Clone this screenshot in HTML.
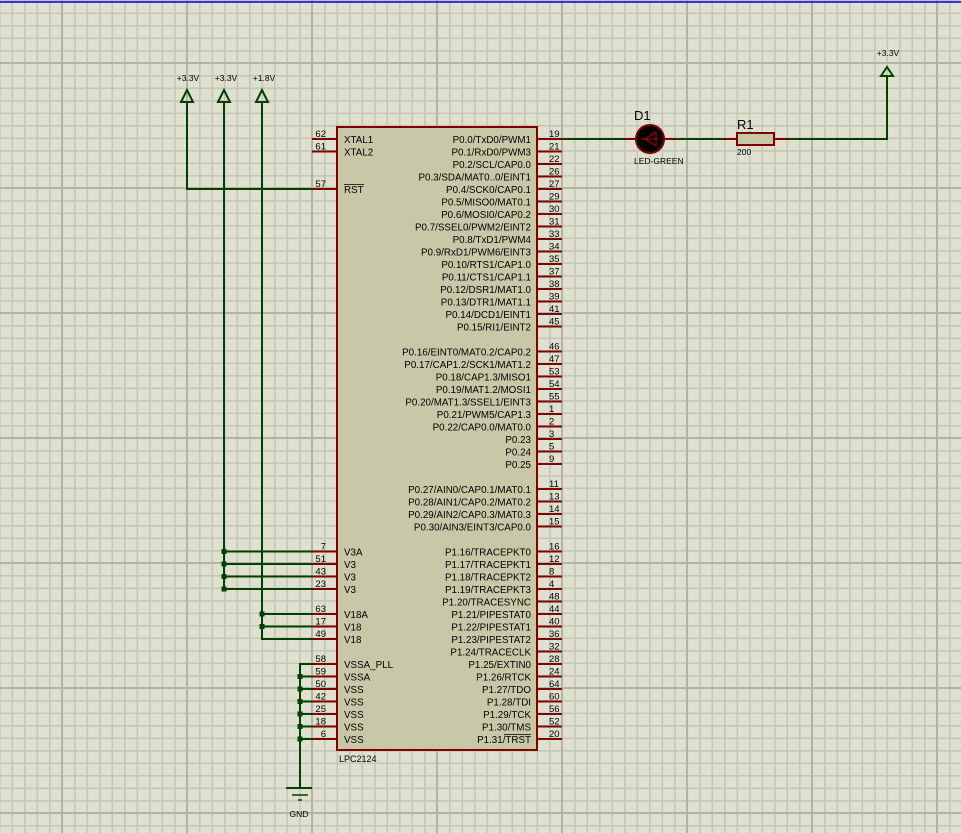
<!DOCTYPE html>
<html><head><meta charset="utf-8"><style>
html,body{margin:0;padding:0;background:#e0e0d0;}
svg{display:block;}
text{font-family:"Liberation Sans",Arial,sans-serif;fill:#000;}
.pl{font-size:9.8px;}
.pn{font-size:9.5px;}
.w{stroke:#004000;stroke-width:2;fill:none;}
.p{stroke:#800000;stroke-width:2;fill:none;}
.j{fill:#004000;}
</style></head><body>
<svg width="961" height="833" viewBox="0 0 961 833" xmlns="http://www.w3.org/2000/svg">
<defs>
<pattern id="g" x="-1" y="0" width="12.5" height="12.5" patternUnits="userSpaceOnUse">
<rect x="0" y="0" width="1.6" height="12.5" fill="#c6c6b6"/>
<rect x="0" y="0" width="12.5" height="1.6" fill="#c6c6b6"/>
</pattern>
<pattern id="G" x="-64" y="-63" width="125" height="125" patternUnits="userSpaceOnUse">
<rect x="0" y="0" width="2" height="125" fill="#b4b4a4"/>
<rect x="0" y="0" width="125" height="2" fill="#b4b4a4"/>
</pattern>
</defs>
<rect width="961" height="833" fill="#e0e0d0"/>
<rect width="961" height="833" fill="url(#g)"/>
<rect width="961" height="833" fill="url(#G)"/>
<line x1="0" y1="2" x2="961" y2="2" stroke="#0000ee" stroke-width="1.5"/>

<!-- chip -->
<rect x="337" y="127" width="200" height="623" fill="#c8c8a8" stroke="#800000" stroke-width="2"/>
<text x="339" y="762" style="font-size:9px">LPC2124</text>

<!-- right pins -->
<g class="p">
<path d="M537 139H562M537 151.5H562M537 164H562M537 176.5H562M537 189H562M537 201.5H562M537 214H562M537 226.5H562M537 239H562M537 251.5H562M537 264H562M537 276.5H562M537 289H562M537 301.5H562M537 314H562M537 326.5H562"/>
<path d="M537 351.5H562M537 364H562M537 376.5H562M537 389H562M537 401.5H562M537 414H562M537 426.5H562M537 439H562M537 451.5H562M537 464H562"/>
<path d="M537 489H562M537 501.5H562M537 514H562M537 526.5H562"/>
<path d="M537 551.5H562M537 564H562M537 576.5H562M537 589H562M537 601.5H562M537 614H562M537 626.5H562M537 639H562M537 651.5H562M537 664H562M537 676.5H562M537 689H562M537 701.5H562M537 714H562M537 726.5H562M537 739H562"/>
</g>
<g class="pl" text-anchor="end">
<text x="531" y="143">P0.0/TxD0/PWM1</text>
<text x="531" y="155.5">P0.1/RxD0/PWM3</text>
<text x="531" y="168">P0.2/SCL/CAP0.0</text>
<text x="531" y="180.5">P0.3/SDA/MAT0..0/EINT1</text>
<text x="531" y="193">P0.4/SCK0/CAP0.1</text>
<text x="531" y="205.5">P0.5/MISO0/MAT0.1</text>
<text x="531" y="218">P0.6/MOSI0/CAP0.2</text>
<text x="531" y="230.5">P0.7/SSEL0/PWM2/EINT2</text>
<text x="531" y="243">P0.8/TxD1/PWM4</text>
<text x="531" y="255.5">P0.9/RxD1/PWM6/EINT3</text>
<text x="531" y="268">P0.10/RTS1/CAP1.0</text>
<text x="531" y="280.5">P0.11/CTS1/CAP1.1</text>
<text x="531" y="293">P0.12/DSR1/MAT1.0</text>
<text x="531" y="305.5">P0.13/DTR1/MAT1.1</text>
<text x="531" y="318">P0.14/DCD1/EINT1</text>
<text x="531" y="330.5">P0.15/RI1/EINT2</text>
<text x="531" y="355.5">P0.16/EINT0/MAT0.2/CAP0.2</text>
<text x="531" y="368">P0.17/CAP1.2/SCK1/MAT1.2</text>
<text x="531" y="380.5">P0.18/CAP1.3/MISO1</text>
<text x="531" y="393">P0.19/MAT1.2/MOSI1</text>
<text x="531" y="405.5">P0.20/MAT1.3/SSEL1/EINT3</text>
<text x="531" y="418">P0.21/PWM5/CAP1.3</text>
<text x="531" y="430.5">P0.22/CAP0.0/MAT0.0</text>
<text x="531" y="443">P0.23</text>
<text x="531" y="455.5">P0.24</text>
<text x="531" y="468">P0.25</text>
<text x="531" y="493">P0.27/AIN0/CAP0.1/MAT0.1</text>
<text x="531" y="505.5">P0.28/AIN1/CAP0.2/MAT0.2</text>
<text x="531" y="518">P0.29/AIN2/CAP0.3/MAT0.3</text>
<text x="531" y="530.5">P0.30/AIN3/EINT3/CAP0.0</text>
<text x="531" y="555.5">P1.16/TRACEPKT0</text>
<text x="531" y="568">P1.17/TRACEPKT1</text>
<text x="531" y="580.5">P1.18/TRACEPKT2</text>
<text x="531" y="593">P1.19/TRACEPKT3</text>
<text x="531" y="605.5">P1.20/TRACESYNC</text>
<text x="531" y="618">P1.21/PIPESTAT0</text>
<text x="531" y="630.5">P1.22/PIPESTAT1</text>
<text x="531" y="643">P1.23/PIPESTAT2</text>
<text x="531" y="655.5">P1.24/TRACECLK</text>
<text x="531" y="668">P1.25/EXTIN0</text>
<text x="531" y="680.5">P1.26/RTCK</text>
<text x="531" y="693">P1.27/TDO</text>
<text x="531" y="705.5">P1.28/TDI</text>
<text x="531" y="718">P1.29/TCK</text>
<text x="531" y="730.5">P1.30/TMS</text>
<text x="531" y="743">P1.31/TRST</text>
</g>
<line x1="504" y1="734.5" x2="531" y2="734.5" stroke="#000" stroke-width="0.8"/>
<g class="pn">
<text x="549" y="137">19</text><text x="549" y="149.5">21</text><text x="549" y="162">22</text><text x="549" y="174.5">26</text>
<text x="549" y="187">27</text><text x="549" y="199.5">29</text><text x="549" y="212">30</text><text x="549" y="224.5">31</text>
<text x="549" y="237">33</text><text x="549" y="249.5">34</text><text x="549" y="262">35</text><text x="549" y="274.5">37</text>
<text x="549" y="287">38</text><text x="549" y="299.5">39</text><text x="549" y="312">41</text><text x="549" y="324.5">45</text>
<text x="549" y="349.5">46</text><text x="549" y="362">47</text><text x="549" y="374.5">53</text><text x="549" y="387">54</text>
<text x="549" y="399.5">55</text><text x="549" y="412">1</text><text x="549" y="424.5">2</text><text x="549" y="437">3</text>
<text x="549" y="449.5">5</text><text x="549" y="462">9</text>
<text x="549" y="487">11</text><text x="549" y="499.5">13</text><text x="549" y="512">14</text><text x="549" y="524.5">15</text>
<text x="549" y="549.5">16</text><text x="549" y="562">12</text><text x="549" y="574.5">8</text><text x="549" y="587">4</text>
<text x="549" y="599.5">48</text><text x="549" y="612">44</text><text x="549" y="624.5">40</text><text x="549" y="637">36</text>
<text x="549" y="649.5">32</text><text x="549" y="662">28</text><text x="549" y="674.5">24</text><text x="549" y="687">64</text>
<text x="549" y="699.5">60</text><text x="549" y="712">56</text><text x="549" y="724.5">52</text><text x="549" y="737">20</text>
</g>

<!-- left pins -->
<g class="p">
<path d="M312 139H337M312 151.5H337M312 189H337M312 551.5H337M312 564H337M312 576.5H337M312 589H337M312 614H337M312 626.5H337M312 639H337M312 664H337M312 676.5H337M312 689H337M312 701.5H337M312 714H337M312 726.5H337M312 739H337"/>
</g>
<g class="pl">
<text x="344" y="143">XTAL1</text>
<text x="344" y="155.5">XTAL2</text>
<text x="344" y="193">RST</text>
<text x="344" y="555.5">V3A</text>
<text x="344" y="568">V3</text>
<text x="344" y="580.5">V3</text>
<text x="344" y="593">V3</text>
<text x="344" y="618">V18A</text>
<text x="344" y="630.5">V18</text>
<text x="344" y="643">V18</text>
<text x="344" y="668">VSSA_PLL</text>
<text x="344" y="680.5">VSSA</text>
<text x="344" y="693">VSS</text>
<text x="344" y="705.5">VSS</text>
<text x="344" y="718">VSS</text>
<text x="344" y="730.5">VSS</text>
<text x="344" y="743">VSS</text>
</g>
<line x1="344" y1="184.5" x2="364" y2="184.5" stroke="#000" stroke-width="0.8"/>
<g class="pn" text-anchor="end">
<text x="326" y="137">62</text><text x="326" y="149.5">61</text><text x="326" y="187">57</text>
<text x="326" y="549.5">7</text><text x="326" y="562">51</text><text x="326" y="574.5">43</text><text x="326" y="587">23</text>
<text x="326" y="612">63</text><text x="326" y="624.5">17</text><text x="326" y="637">49</text>
<text x="326" y="662">58</text><text x="326" y="674.5">59</text><text x="326" y="687">50</text><text x="326" y="699.5">42</text>
<text x="326" y="712">25</text><text x="326" y="724.5">18</text><text x="326" y="737">6</text>
</g>

<!-- supply wires -->
<g class="w">
<path d="M187 102V189H312"/>
<path d="M224 102V589"/>
<path d="M224 551.5H312M224 564H312M224 576.5H312M224 589H312"/>
<path d="M262 102V639H312"/>
<path d="M262 614H312M262 626.5H312"/>
<path d="M312 664H300V788"/>
<path d="M300 676.5H312M300 689H312M300 701.5H312M300 714H312M300 726.5H312M300 739H312"/>
<path d="M181 102L187 90L193 102Z"/>
<path d="M218 102L224 90L230 102Z"/>
<path d="M256 102L262 90L268 102Z"/>
<path d="M286 788H312"/>
<path d="M292 795H308" stroke-width="1.5"/>
<path d="M298 800H302" stroke-width="1.5"/>
</g>
<g class="j">
<rect x="221.5" y="549" width="5" height="5"/><rect x="221.5" y="561.5" width="5" height="5"/>
<rect x="221.5" y="574" width="5" height="5"/><rect x="221.5" y="586.5" width="5" height="5"/>
<rect x="259.5" y="611.5" width="5" height="5"/><rect x="259.5" y="624" width="5" height="5"/>
<rect x="297.5" y="674" width="5" height="5"/><rect x="297.5" y="686.5" width="5" height="5"/>
<rect x="297.5" y="699" width="5" height="5"/><rect x="297.5" y="711.5" width="5" height="5"/>
<rect x="297.5" y="724" width="5" height="5"/><rect x="297.5" y="736.5" width="5" height="5"/>
</g>
<g style="font-size:8.5px" text-anchor="middle">
<text x="188" y="81">+3.3V</text>
<text x="226" y="81">+3.3V</text>
<text x="264" y="81">+1.8V</text>
<text x="888" y="56">+3.3V</text>
<text x="299" y="817">GND</text>
</g>

<!-- LED / resistor -->
<g class="w">
<path d="M562 139H624M674 139H724M787 139H887V76"/>
<path d="M881 76L887 67L893 76Z"/>
</g>
<g class="p">
<path d="M624 139H637M663 139H674M724 139H737M774 139H787"/>
</g>
<circle cx="650" cy="139" r="14" fill="#000" stroke="#800000" stroke-width="2"/>
<path d="M641 139H659M656 132V146M656 132L645 139L656 146" stroke="#a00000" stroke-width="1.2" fill="none"/>
<rect x="737" y="133" width="37" height="12" fill="#c8c8a8" stroke="#800000" stroke-width="2"/>
<text x="634" y="120" style="font-size:13px">D1</text>
<text x="634" y="164" style="font-size:8.5px">LED-GREEN</text>
<text x="737" y="129" style="font-size:13px">R1</text>
<text x="737" y="155" style="font-size:8.5px">200</text>
</svg>
</body></html>
